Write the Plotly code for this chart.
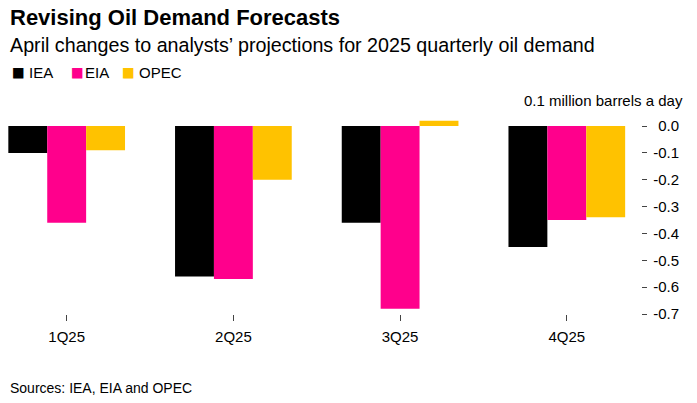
import plotly.graph_objects as go

# ---- data ----
quarters = ["1Q25", "2Q25", "3Q25", "4Q25"]
iea = [-0.10, -0.56, -0.36, -0.45]
eia = [-0.36, -0.57, -0.68, -0.35]
opec = [-0.09, -0.20, 0.02, -0.34]
y_ticks = [0.0, -0.1, -0.2, -0.3, -0.4, -0.5, -0.6, -0.7]
y_tick_text = ["0.0", "-0.1", "-0.2", "-0.3", "-0.4", "-0.5", "-0.6", "-0.7"]

series = [("IEA", iea, "#000000"), ("EIA", eia, "#ff008c"), ("OPEC", opec, "#ffc200")]

W, H = 697, 403
ML, MR, MT, MB = 8, 7, 110, 73
PW, PH = W - ML - MR, H - MT - MB
AXIS_BOTTOM = 314          # pixel row of the x axis (y = -0.7)
Y_RANGE = [-0.7, 0.06]
FONT = "Liberation Sans, Arial, sans-serif"


def px_x(px):
    return (px - ML) / PW


def px_y(py):
    return (H - MB - py) / PH


# label axis spans the full plot height; extend its range to keep values aligned
px_per_unit = (AXIS_BOTTOM - MT) / (Y_RANGE[1] - Y_RANGE[0])
y2_range = [Y_RANGE[0] - (H - MB - AXIS_BOTTOM) / px_per_unit, Y_RANGE[1]]

fig = go.Figure()
for name, vals, col in series:
    fig.add_trace(go.Bar(x=quarters, y=vals, name=name, marker=dict(color=col, line=dict(width=0)),
                         showlegend=False))
# empty helper trace so the label axis is drawn
fig.add_trace(go.Scatter(x=[], y=[], yaxis="y2", showlegend=False))

annotations = [
    dict(text="<b>Revising Oil Demand Forecasts</b>", x=px_x(8), y=px_y(17), xanchor="left", yanchor="middle",
         font=dict(size=22, color="#000", family=FONT)),
    dict(text="April changes to analysts’ projections for 2025 quarterly oil demand", x=px_x(8), y=px_y(45),
         xanchor="left", yanchor="middle", font=dict(size=19.7, color="#000", family=FONT)),
    dict(text="0.1 million barrels a day", x=px_x(685), y=px_y(100), xanchor="right", yanchor="middle",
         font=dict(size=15, color="#000", family=FONT)),
    dict(text="Sources: IEA, EIA and OPEC", x=px_x(8), y=px_y(388), xanchor="left", yanchor="middle",
         font=dict(size=14, color="#000", family=FONT)),
]
legend_sq_x = [10, 69, 120]
legend_tx_x = [27, 83, 137]
for (name, vals, col), sx, tx in zip(series, legend_sq_x, legend_tx_x):
    annotations.append(dict(text="■", x=px_x(sx), y=px_y(72), xanchor="left", yanchor="middle",
                            font=dict(size=13.5, color=col, family="DejaVu Sans")))
    annotations.append(dict(text=name, x=px_x(tx), y=px_y(72.5), xanchor="left", yanchor="middle",
                            font=dict(size=15, color="#000", family=FONT)))
for a in annotations:
    a.update(xref="paper", yref="paper", showarrow=False)

fig.update_layout(
    width=W, height=H, margin=dict(l=ML, r=MR, t=MT, b=MB),
    paper_bgcolor="white", plot_bgcolor="rgba(0,0,0,0)",
    barmode="group", bargap=0.3, bargroupgap=0,
    font=dict(family=FONT, size=15, color="#000"),
    annotations=annotations,
    xaxis=dict(domain=[0, px_x(641)], range=[-0.352, 3.445], anchor="y", ticks="outside", ticklen=6,
               tickwidth=1, tickcolor="#444", showline=False, showgrid=False, zeroline=False,
               ticklabelstandoff=3, tickfont=dict(size=15, color="#000")),
    yaxis=dict(domain=[px_y(AXIS_BOTTOM), 1], range=Y_RANGE, side="right", anchor="x", ticks="outside",
               ticklen=5, tickcolor="#444", tickvals=y_ticks, showticklabels=False, showgrid=False,
               zeroline=False, showline=False),
    yaxis2=dict(domain=[0, 1], range=y2_range, side="right", anchor="free", position=px_x(682),
                tickvals=y_ticks, ticktext=y_tick_text, ticklabelposition="inside", ticks="",
                showgrid=False, zeroline=False, showline=False, tickfont=dict(size=15, color="#000")),
)

fig.write_html("out.html")
